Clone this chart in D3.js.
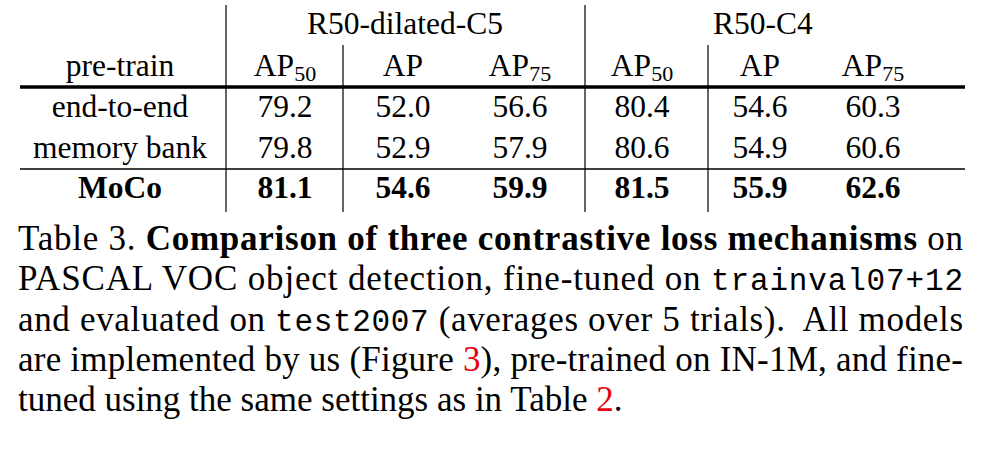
<!DOCTYPE html>
<html><head><meta charset="utf-8">
<script src="https://cdn.jsdelivr.net/npm/d3@7"></script>
<style>body{margin:0;background:#fff}</style>
</head><body><svg width="986" height="450"></svg>
<script>
var svg = d3.select("svg");
var serif = "Liberation Serif, Times New Roman, serif";

// table data
var groups = ["R50-dilated-C5", "R50-C4"];
var metrics = [["AP","50"], ["AP",""], ["AP","75"], ["AP","50"], ["AP",""], ["AP","75"]];
var rowNames = ["end-to-end", "memory bank", "MoCo"];
var end2end = [79.2, 52.0, 56.6, 80.4, 54.6, 60.3];
var memBank = [79.8, 52.9, 57.9, 80.6, 54.9, 60.6];
var moco = [81.1, 54.6, 59.9, 81.5, 55.9, 62.6];
var rows = [end2end, memBank, moco];

var colX = d3.scaleOrdinal().domain(d3.range(6)).range([285, 403, 520, 642, 760, 873]);
var rowY = d3.scalePoint().domain(d3.range(3)).range([117, 198]);

// rules
svg.append("line").attr("x1", 20).attr("x2", 965).attr("y1", 87).attr("y2", 87)
  .attr("stroke", "#000").attr("stroke-width", 3.5);
svg.append("line").attr("x1", 20).attr("x2", 965).attr("y1", 169).attr("y2", 169)
  .attr("stroke", "#000").attr("stroke-width", 1.3);
[[226, 5], [343, 45], [585, 5], [708, 45]].forEach(function (v) {
  svg.append("line").attr("x1", v[0]).attr("x2", v[0]).attr("y1", v[1]).attr("y2", 212)
    .attr("stroke", "#000").attr("stroke-width", 1.2);
});

function txt(x, y, s, bold) {
  return svg.append("text").attr("x", x).attr("y", y).attr("text-anchor", "middle")
    .attr("font-family", serif).attr("font-size", 31.5)
    .attr("font-weight", bold ? "bold" : "normal").text(s);
}

txt(405, 34, groups[0]);
txt(763, 34, groups[1]);
txt(120, 76, "pre-train");
metrics.forEach(function (m, i) {
  var t = txt(colX(i), 76, m[0]);
  if (m[1]) t.append("tspan").attr("font-size", 22).attr("dy", 5).text(m[1]);
});
rows.forEach(function (r, j) {
  var bold = j === 2;
  txt(120, rowY(j), rowNames[j], bold);
  r.forEach(function (v, i) { txt(colX(i), rowY(j), v.toFixed(1), bold); });
});

// caption
var captionLines = [
  [["Table 3. ", "n"], ["Comparison of three contrastive loss mechanisms", "b"], [" on", "n"]],
  [["PASCAL VOC object detection, fine-tuned on ", "n"], ["trainval07+12", "m"]],
  [["and evaluated on ", "n"], ["test2007", "m"], [" (averages over 5 trials).  All models", "n"]],
  [["are implemented by us (Figure ", "n"], ["3", "r"], ["), pre-trained on IN-1M, and fine-", "n"]],
  [["tuned using the same settings as in Table ", "n"], ["2", "r"], [".", "n"]]
];
var capY = d3.scaleLinear().domain([0, 4]).range([250, 411]);
captionLines.forEach(function (line, i) {
  var t = svg.append("text").attr("x", 18).attr("y", capY(i))
    .attr("font-family", serif).attr("font-size", 35).attr("xml:space", "preserve");
  if (i < captionLines.length - 1) t.attr("textLength", 945).attr("lengthAdjust", "spacing");
  line.forEach(function (p) {
    var s = t.append("tspan").text(p[0]);
    if (p[1] === "b") s.attr("font-weight", "bold");
    if (p[1] === "m") s.attr("font-family", "Liberation Mono, monospace").attr("font-size", 31);
    if (p[1] === "r") s.attr("fill", "#e8000b");
  });
});
</script></body></html>
